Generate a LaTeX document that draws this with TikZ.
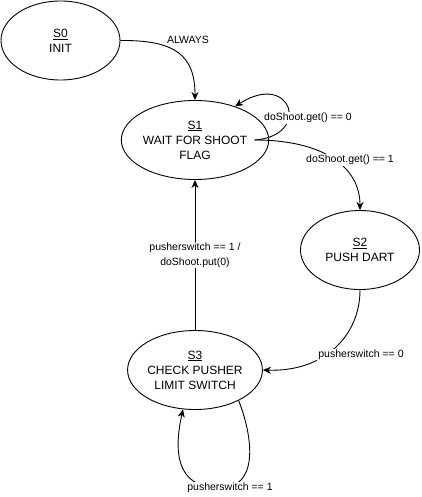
\documentclass[tikz,border=0pt]{standalone}
\usepackage{fontspec}
\setmainfont{Liberation Sans}
\usetikzlibrary{shapes.geometric,arrows.meta}
\begin{document}
\begin{tikzpicture}[x=1pt,y=-1pt,
  state/.style={draw,ellipse,line width=0.9pt,minimum width=119pt,minimum height=79pt,inner sep=0pt,align=center,font=\fontsize{12}{15}\selectfont},
  lbl/.style={fill=white,inner sep=1pt,align=center,font=\fontsize{10.5}{15}\selectfont},
  edge/.style={line width=0.9pt,-{Stealth[length=8pt,width=7pt,inset=2.5pt]}}]
\useasboundingbox (0,0) rectangle (421,497);
\node[state] (s0) at (60.5,40.5) {\underline{S0}\\INIT};
\node[state] (s1) at (195,140) {\underline{S1}\\WAIT FOR SHOOT\\FLAG};
\node[state] (s2) at (360,250) {\underline{S2}\\PUSH DART};
\node[state] (s3) at (195,370) {\underline{S3}\\CHECK PUSHER\\LIMIT SWITCH};
\coordinate (s1r) at (254.5,140);
\draw[edge] (s0.east) .. controls (175,40) and (195,55) .. (s1.north);
\node[lbl,fill=none] (l0) at (188,40) {ALWAYS};
\draw[edge] (s1r) .. controls (312,136) and (292,70) .. (s1.40);
\node[lbl] (l1) at (308,118) {doShoot.get() == 0};
\draw[edge] (s1r) .. controls (325,140) and (360,168) .. (s2.north);
\node[lbl] (l2) at (350,160) {doShoot.get() == 1};
\draw[edge] (s2.south) .. controls (360,335) and (325,372) .. (s3.east);
\node[lbl] (l3) at (361,355) {pusherswitch == 0};
\draw[edge] (s3.north) -- (s1.south);
\node[lbl] (l4) at (195,255) {pusherswitch == 1 /\\doShoot.put(0)};
\draw[edge] (s3.-35) .. controls (254,440) and (258,488) .. (220,488) .. controls (175,488) and (174,450) .. (s3.-107);
\node[lbl] (l5) at (230,488) {pusherswitch == 1};
\end{tikzpicture}
\end{document}
